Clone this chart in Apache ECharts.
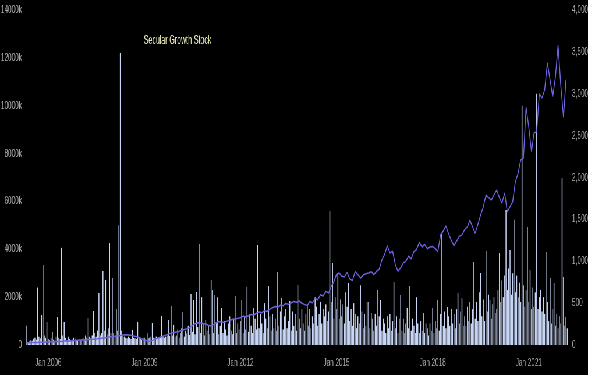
<!DOCTYPE html>
<html><head><meta charset="utf-8">
<script src="https://cdn.jsdelivr.net/npm/echarts@6/dist/echarts.min.js"></script>
<style>
html,body{margin:0;padding:0;background:#fff;overflow:hidden;}
#wrap{width:588px;height:375px;overflow:hidden;background:#000;}
#c{width:1010px;height:375px;background:#000;transform:scaleX(0.5822);transform-origin:0 0;}
</style>
</head><body><div id="wrap"><div id="c"></div></div>
<script>
const chartTitle = 'Secular Growth Stock';
const xTickYears = [2006, 2009, 2012, 2015, 2018, 2021];
const leftTicks = [0, 2000, 4000, 6000, 8000, 10000, 12000, 14000];   // thousands
const rightTicks = [0, 500, 1000, 1500, 2000, 2500, 3000, 3500, 4000];

// Volume (thousands), twice a month (1st and 16th), starting May 2005
const vol2005 = [800,120,150,200,180,260,300,220,2400,350,280,1250,3340,400,300,960];
const vol2006 = [250,200,300,540,220,180,350,1170,300,250,4060,400,960,300,200,350,250,180,220,300,260,200,180,250];
const vol2007 = [200,250,300,220,400,300,1130,350,280,400,1420,500,350,600,2170,400,500,3090,600,2720,450,700,4260,500];
const vol2008 = [2800,500,400,1500,600,5000,12200,600,400,350,300,280,350,300,250,630,300,280,250,960,300,250,220,300];
const vol2009 = [300,250,500,280,300,350,920,300,280,350,300,320,350,1210,380,300,350,400,1050,380,1630,400,840,350];
const vol2010 = [400,650,300,500,700,1380,350,600,480,800,420,2130,550,1880,450,2220,750,4220,500,2000,900,400,1050,600];
const vol2011 = [800,450,2720,2300,500,2090,950,2000,450,800,1550,500,1000,650,400,900,1200,600,450,1100,2050,500,900,650];
const vol2012 = [1000,1880,500,1200,650,2430,550,1300,800,500,1550,1100,650,4180,700,1300,900,500,1750,1100,700,2470,1200,600];
const vol2013 = [1300,700,1100,600,3050,800,1400,1960,650,1200,1500,700,1000,1840,600,1400,800,1300,600,2510,1100,700,1500,900];
const vol2014 = [600,1300,1670,800,1500,700,1200,900,2000,1600,800,1300,1800,900,1500,1200,1700,1000,1400,5600,1800,3430,1100,2000];
const vol2015 = [1500,3000,1100,1900,1200,1700,900,2200,1600,2590,1000,1500,800,1750,1300,700,1200,900,2500,1400,700,1300,800,1800];
const vol2016 = [1800,700,1340,1100,600,1300,800,2300,1200,1880,600,1100,900,500,1200,700,1300,600,1000,2630,700,1200,500,1100];
const vol2017 = [2090,600,1100,500,900,1550,700,2470,600,1100,800,500,2000,900,500,1000,600,1340,500,900,700,400,900,600];
const vol2018 = [1550,500,1000,700,1880,600,1300,4680,800,1400,700,1590,1200,800,1500,900,1300,700,1500,2170,900,1400,1960,800];
const vol2019 = [1200,800,1600,1000,1800,900,1500,3470,1100,1800,1000,2200,3010,1200,1900,1000,3930,1400,2100,1880,1100,1700,2000,1340];
const vol2020 = [1500,2300,3850,1800,2700,2000,2900,5640,2300,3200,3970,2100,3000,5230,2200,2900,2000,2600,1800,10000,2500,1600,2300,4930];
const vol2021 = [1800,3130,1500,2400,1600,2200,10500,1500,2000,2300,1400,2000,1300,3890,1800,1000,2800,900,1500,2590,800,1300,700,1200];
const vol2022 = [900,6980,2840,800,1170,700];

// Price, monthly, starting May 2005
const px2005 = [26,28,30,29,31,33,32,35];
const px2006 = [37,40,38,42,45,43,47,50,48,52,55,58];
const px2007 = [60,63,61,66,70,68,72,78,82,85,90,95];
const px2008 = [100,105,110,112,118,122,120,115,108,100,90,75];
const px2009 = [60,48,45,55,68,80,92,105,118,130,140,150];
const px2010 = [155,160,172,185,195,210,230,255,265,262,258,250];
const px2011 = [235,228,245,265,280,275,270,285,295,305,310,318];
const px2012 = [325,345,335,350,365,355,380,395,385,410,400,428];
const px2013 = [445,460,450,475,470,495,485,505,520,510,525,498];
const px2014 = [485,470,520,505,555,540,600,585,640,620,700,755];
const px2015 = [845,860,820,815,865,790,770,875,840,800,835,850];
const px2016 = [860,875,840,880,905,1015,1080,1185,1100,1120,960,880];
const px2017 = [920,980,1000,1060,1030,1115,1140,1225,1170,1200,1150,1170];
const px2018 = [1175,1150,1115,1315,1360,1420,1330,1250,1185,1240,1300,1315];
const px2019 = [1380,1410,1490,1410,1335,1440,1550,1650,1790,1760,1730,1790];
const px2020 = [1850,1760,1695,1815,1590,1650,1710,1950,2050,2210,2230,2840];
const px2021 = [2600,2310,2530,2550,3000,2950,3045,3370,3165,2965,3200,3580];
const px2022 = [3100,2720,3165];

const volume = [].concat(vol2005,vol2006,vol2007,vol2008,vol2009,vol2010,vol2011,vol2012,vol2013,vol2014,vol2015,vol2016,vol2017,vol2018,vol2019,vol2020,vol2021,vol2022);
const price = [].concat(px2005,px2006,px2007,px2008,px2009,px2010,px2011,px2012,px2013,px2014,px2015,px2016,px2017,px2018,px2019,px2020,px2021,px2022);

const startYear = 2005, startMonth = 4; // May (0-based)
const volData = volume.map((v,k)=>{
  const mAbs = startMonth + Math.floor(k/2);
  return [Date.UTC(startYear, mAbs, k%2 ? 16 : 1), v];
});
const priceData = price.map((v,k)=>[Date.UTC(startYear, startMonth + k, 1), v]);

const font = "'Liberation Sans', Arial, sans-serif";
const chart = echarts.init(document.getElementById('c'));
chart.setOption({
  animation: false,
  backgroundColor: '#000',
  title: { text: chartTitle, left: 242, top: 30,
    textStyle: { color: '#ececb8', fontSize: 12, fontWeight: 'normal', fontFamily: font } },
  grid: { left: 44.7, right: 34.4, top: 10, bottom: 30, outerBoundsMode: 'none' },
  xAxis: {
    type: 'value', min: Date.UTC(2005, 3, 22), max: Date.UTC(2022, 2, 24),
    axisLine: { show: false }, axisTick: { show: false }, splitLine: { show: false },
    axisLabel: {
      customValues: xTickYears.map(y => Date.UTC(y, 0, 1)),
      formatter: v => 'Jan ' + new Date(v).getUTCFullYear(),
      color: '#a8a8a8', fontSize: 11, fontFamily: font, margin: 12
    }
  },
  yAxis: [
    { type: 'value', min: leftTicks[0], max: leftTicks[leftTicks.length-1], interval: 2000,
      axisLine: { show: false }, axisTick: { show: false }, splitLine: { show: false },
      axisLabel: { formatter: v => v === 0 ? '0' : v + 'k', color: '#a8a8a8', fontSize: 11, fontFamily: font, margin: 7 } },
    { type: 'value', min: rightTicks[0], max: rightTicks[rightTicks.length-1], interval: 500,
      axisLine: { show: false }, axisTick: { show: false }, splitLine: { show: false },
      axisLabel: { formatter: v => v.toLocaleString('en-US'), color: '#a8a8a8', fontSize: 11, fontFamily: font, margin: 7 } }
  ],
  series: [
    { type: 'bar', yAxisIndex: 0, data: volData, barWidth: 1.5,
      itemStyle: { color: '#c8d6f6' }, z: 1 },
    { type: 'line', yAxisIndex: 1, data: priceData, showSymbol: false,
      lineStyle: { color: '#6d63e0', width: 1.5 }, z: 3 }
  ]
});
</script></body></html>
